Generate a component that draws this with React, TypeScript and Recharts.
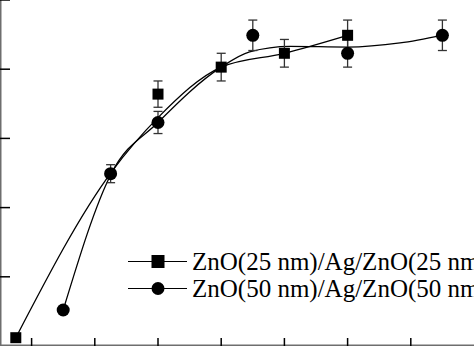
import {
  ComposedChart,
  Line,
  Scatter,
  ErrorBar,
  XAxis,
  YAxis,
} from "recharts";

// measured points (x in tick units, y in tick units)
const sqX = [-0.25, 2, 3, 4, 5];
const sqY = [0.12, 3.64, 4.03, 4.23, 4.49];
const sqErr = [0, 0.19, 0.2, 0.2, 0.22];

const ciX = [0.5, 1.25, 2, 3.5, 5, 6.5];
const ciY = [0.52, 2.49, 3.23, 4.49, 4.23, 4.49];
const ciErr = [0, 0.13, 0.16, 0.22, 0.2, 0.22];

// smooth fitted curves
const sqFitX = [-0.25, 1.26, 2.0, 3.0, 4.0, 5.0];
const sqFitY = [0.12, 2.51, 3.3, 4.03, 4.23, 4.49];
const ciFitX = [0.5, 1.26, 2.0, 3.0, 3.45, 4.09, 5.0, 5.83, 6.5];
const ciFitY = [0.52, 2.49, 3.23, 4.03, 4.25, 4.33, 4.32, 4.38, 4.49];

const xTicks = [0, 1, 2, 3, 4, 5, 6];
const yTicks = [0, 1, 2, 3, 4, 5];

const labels = ["ZnO(25 nm)/Ag/ZnO(25 nm)", "ZnO(50 nm)/Ag/ZnO(50 nm)"];

const sqData = sqX.map((x, i) => ({ x, y: sqY[i], err: sqErr[i] }));
const ciData = ciX.map((x, i) => ({ x, y: ciY[i], err: ciErr[i] }));
const sqFit = sqFitX.map((x, i) => ({ x, y: sqFitY[i] }));
const ciFit = ciFitX.map((x, i) => ({ x, y: ciFitY[i] }));

const SquareDot = (p: any) => (
  <rect x={p.cx - 5.5} y={p.cy - 5.5} width={11} height={11} fill="#000" />
);
const CircleDot = (p: any) => <circle cx={p.cx} cy={p.cy} r={6.5} fill="#000" />;
const NoTick = () => <g />;

function LegendBox() {
  return (
    <div
      style={{
        position: "absolute",
        left: 128,
        top: 248,
        fontFamily: '"Liberation Serif", "Times New Roman", serif',
        fontSize: 25,
        whiteSpace: "nowrap",
        color: "#000",
      }}
    >
      {labels.map((label, i) => (
        <div key={label} style={{ display: "flex", alignItems: "center", height: 27 }}>
          <svg width={64} height={27} style={{ flex: "none" }}>
            <line x1={0} y1={13.5} x2={59} y2={13.5} stroke="#000" strokeWidth={1.2} />
            {i === 0 ? (
              <rect x={23.5} y={7} width={13} height={13} fill="#000" />
            ) : (
              <circle cx={30} cy={13.5} r={6.5} fill="#000" />
            )}
          </svg>
          <span style={{ lineHeight: "27px" }}>{label}</span>
        </div>
      ))}
    </div>
  );
}

export default function App() {
  return (
    <div
      style={{
        position: "absolute",
        left: 0,
        top: 0,
        width: 474,
        height: 346,
        background: "#fff",
        overflow: "hidden",
      }}
    >
      <ComposedChart
        width={474}
        height={346}
        margin={{ top: 0, right: 0, left: 0, bottom: 0 }}
      >
        <XAxis
          type="number"
          dataKey="x"
          domain={[-0.5, 7]}
          ticks={xTicks}
          height={1}
          mirror
          tick={NoTick}
          tickSize={8}
          axisLine={{ stroke: "#6e6e6e", strokeWidth: 3 }}
          tickLine={{ stroke: "#000", strokeWidth: 1.5 }}
          allowDataOverflow
        />
        <YAxis
          type="number"
          domain={[0, 5]}
          ticks={yTicks}
          width={1}
          mirror
          tick={NoTick}
          tickSize={10}
          axisLine={{ stroke: "#6e6e6e", strokeWidth: 3 }}
          tickLine={{ stroke: "#000", strokeWidth: 1.5 }}
          allowDataOverflow
        />
        <Line
          data={sqFit}
          dataKey="y"
          type="monotone"
          stroke="#000"
          strokeWidth={1.3}
          dot={false}
          activeDot={false}
          isAnimationActive={false}
        />
        <Line
          data={ciFit}
          dataKey="y"
          type="monotone"
          stroke="#000"
          strokeWidth={1.3}
          dot={false}
          activeDot={false}
          isAnimationActive={false}
        />
        <Scatter data={sqData} dataKey="y" shape={SquareDot} isAnimationActive={false}>
          <ErrorBar dataKey="err" direction="y" width={4.5} stroke="#333" strokeWidth={1.3} />
        </Scatter>
        <Scatter data={ciData} dataKey="y" shape={CircleDot} isAnimationActive={false}>
          <ErrorBar dataKey="err" direction="y" width={4.5} stroke="#333" strokeWidth={1.3} />
        </Scatter>
      </ComposedChart>
      <LegendBox />
    </div>
  );
}
